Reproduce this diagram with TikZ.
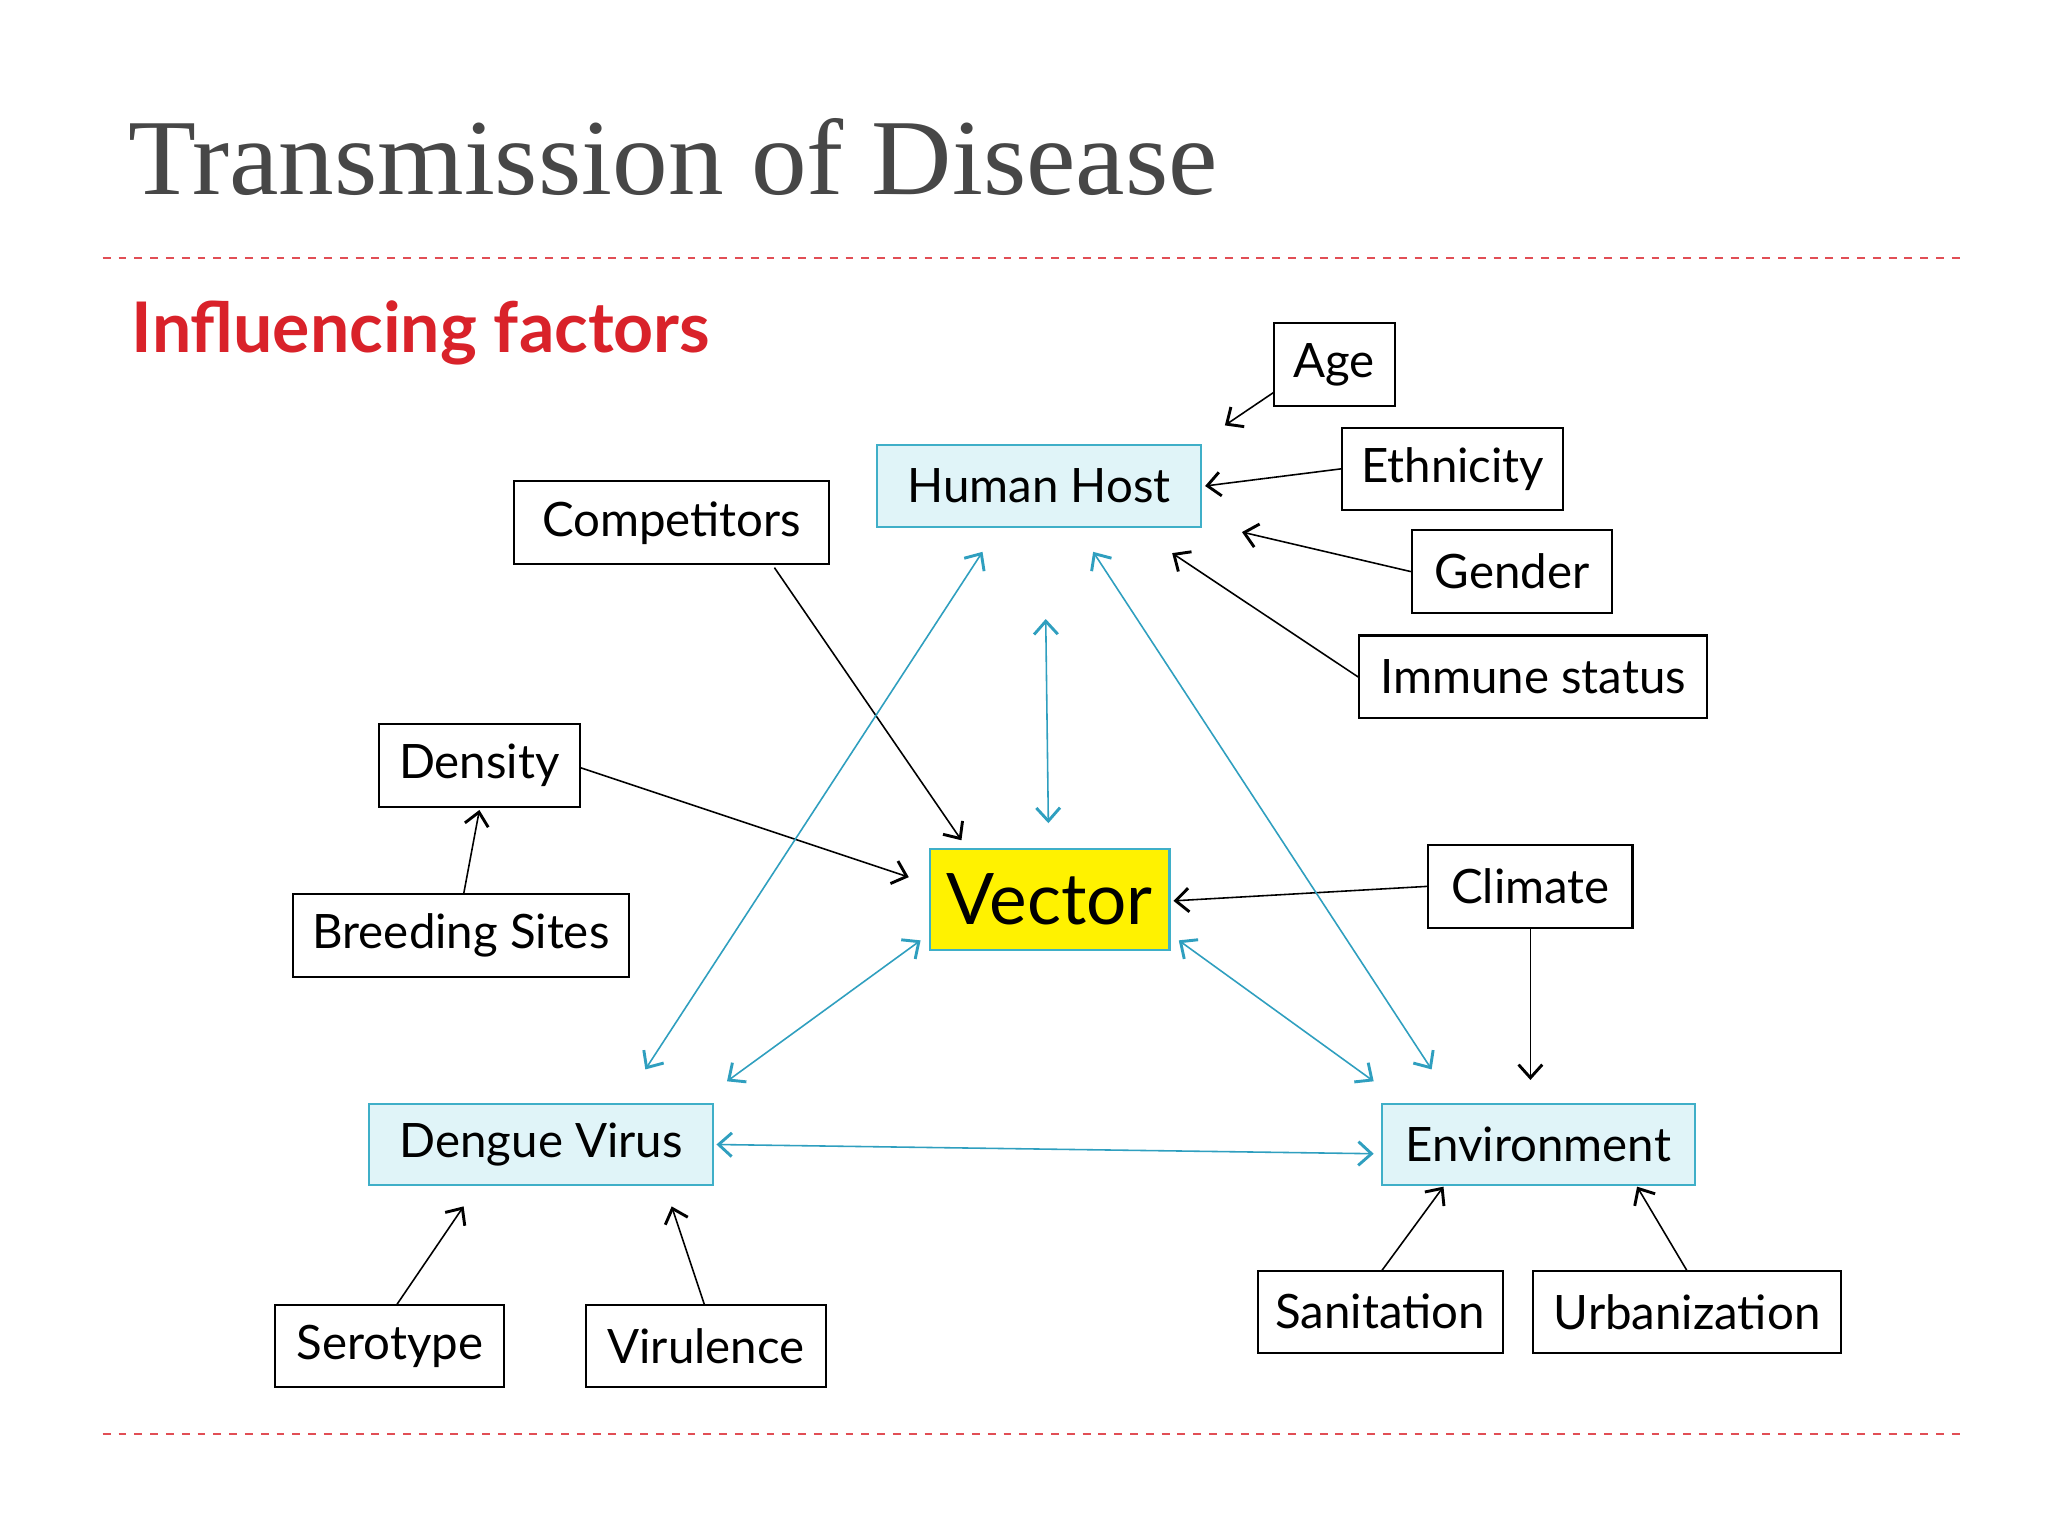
\documentclass[tikz,border=0pt]{standalone}
\usepackage{fontspec}
\setmainfont{Lato}
\newfontfamily\titlefont{Liberation Serif}
\usetikzlibrary{arrows.meta}
\definecolor{boxcyan}{HTML}{3FAFC8}
\definecolor{boxfill}{HTML}{E0F4F8}
\definecolor{titlered}{HTML}{D9222A}
\definecolor{arrcyan}{HTML}{2F9FBF}
\begin{document}
\begin{tikzpicture}[x=0.5pt,y=-0.5pt,
  fbox/.style={draw=black,line width=0.8pt,fill=white,inner sep=0pt,font=\fontsize{18}{20}\selectfont},
  mbox/.style={draw=boxcyan,line width=0.8pt,fill=boxfill,inner sep=0pt,font=\fontsize{18}{20}\selectfont},
  barr/.style={-{Straight Barb[length=5pt,width=9pt,line width=1.1pt]},line width=0.6pt},
  carr/.style={{Straight Barb[length=5pt,width=9pt,line width=1.1pt]}-{Straight Barb[length=5pt,width=9pt,line width=1.1pt]},line width=0.6pt,draw=arrcyan}]
\useasboundingbox (0,0) rectangle (1555,1166);
\fill[white] (0,0) rectangle (1555,1166);
\node[anchor=base west,text=black!72,font=\titlefont\fontsize{41}{46}\selectfont,xscale=1.03] (title) at (90,148) {Transmission of Disease};
\node[anchor=base west,text=titlered,font=\bfseries\fontsize{26.5}{30}\selectfont] (sub) at (93,268) {Influencing factors};
\draw[titlered!80,dashed,line width=0.6pt] (78,196) -- (1490,196);
\draw[titlered!80,dashed,line width=0.6pt] (78,1089) -- (1490,1089);
\def\bx#1#2#3#4#5#6#7{\node[#1,minimum width=#5*0.5pt,minimum height=#6*0.5pt] (#2) at (#3,#4) {#7};}
\bx{fbox}{age}{1013}{277}{92}{63}{Age}
\bx{fbox}{eth}{1103}{356}{168}{62}{Ethnicity}
\bx{fbox}{gen}{1148}{434}{152}{63}{Gender}
\bx{fbox}{imm}{1164}{514}{264}{63}{Immune status}
\bx{mbox}{hh}{789}{369}{246}{62}{Human Host}
\bx{fbox}{comp}{510}{397}{239}{63}{Competitors}
\bx{fbox}{dens}{364}{581}{153}{63}{Density}
\bx{fbox}{breed}{350}{710}{255}{63}{Breeding Sites}
\node[draw=boxcyan,line width=0.8pt,fill=yellow,inner sep=0pt,minimum width=91pt,minimum height=38.5pt,font=\fontsize{27}{30}\selectfont] (vec) at (797,683) {Vector};
\bx{fbox}{clim}{1162}{673}{155}{63}{Climate}
\bx{mbox}{dv}{411}{869}{261}{62}{Dengue Virus}
\bx{mbox}{env}{1168}{869}{238}{62}{Environment}
\bx{fbox}{sero}{296}{1022}{174}{62}{Serotype}
\bx{fbox}{vir}{536}{1022}{182}{62}{Virulence}
\bx{fbox}{san}{1048}{996}{186}{62}{Sanitation}
\bx{fbox}{urb}{1281}{996}{234}{62}{Urbanization}
% free ends
\coordinate (ageT) at (930,323);
\coordinate (ethT) at (915,369);
\coordinate (genT) at (943,404);
\coordinate (immT) at (890,420);
\coordinate (compT) at (730,638);
\coordinate (densT) at (690,666);
\coordinate (breedT) at (364,615);
\coordinate (climT) at (891,684);
\coordinate (climD) at (1162,820);
\coordinate (seroT) at (352,916);
\coordinate (virT) at (510,916);
\coordinate (sanT) at (1096,901);
\coordinate (urbT) at (1243,901);
\draw[barr] (967,298) -- (ageT);
\draw[barr] (eth.west) -- (ethT);
\draw[barr] (gen.west) -- (genT);
\draw[barr] (imm.west) -- (immT);
\draw[barr] (588,431) -- (compT);
\draw[barr] (441,583) -- (densT);
\draw[barr] (352,679) -- (breedT);
\draw[barr] (clim.west) -- (climT);
\draw[barr] (clim.south) -- (climD);
\draw[barr] (301,991) -- (seroT);
\draw[barr] (535,991) -- (virT);
\draw[barr] (1049,965) -- (sanT);
\draw[barr] (1281,965) -- (urbT);
% cyan
\coordinate (a1) at (794,470); \coordinate (a2) at (796,625);
\coordinate (b1) at (746,419); \coordinate (b2) at (490,812);
\coordinate (c1) at (830,419); \coordinate (c2) at (1087,812);
\coordinate (d1) at (699,714); \coordinate (d2) at (552,821);
\coordinate (e1) at (895,714); \coordinate (e2) at (1043,821);
\coordinate (f1) at (544,869); \coordinate (f2) at (1043,876);
\draw[carr] (a1) -- (a2);
\draw[carr] (b1) -- (b2);
\draw[carr] (c1) -- (c2);
\draw[carr] (d1) -- (d2);
\draw[carr] (e1) -- (e2);
\draw[carr] (f1) -- (f2);
\end{tikzpicture}
\end{document}
